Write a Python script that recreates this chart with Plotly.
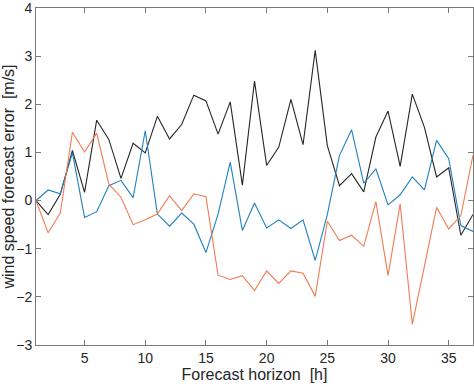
import plotly.graph_objects as go

horizon = list(range(1, 38))
err_black = [0, -0.29, 0.13, 1.04, 0.17, 1.67, 1.27, 0.46, 1.19, 0.99, 1.75, 1.28, 1.58, 2.19, 2.07,
             1.38, 2.05, 0.32, 2.48, 0.73, 1.11, 2.10, 1.16, 3.12, 1.14, 0.31, 0.56, 0.18, 1.32, 1.86,
             0.71, 2.21, 1.52, 0.49, 0.68, -0.72, -0.29]
err_blue = [0, 0.22, 0.14, 0.99, -0.35, -0.23, 0.31, 0.42, 0.06, 1.45, -0.28, -0.53, -0.26, -0.49,
            -1.08, -0.28, 0.80, -0.62, -0.05, -0.57, -0.40, -0.58, -0.40, -1.24, -0.29, 0.94, 1.47,
            0.36, 0.66, -0.09, 0.12, 0.49, 0.22, 1.25, 0.87, -0.52, -0.64]
err_orange = [0, -0.67, -0.26, 1.42, 1.01, 1.40, 0.34, 0.07, -0.50, -0.40, -0.28, 0.10, -0.21, 0.14,
              0.08, -1.55, -1.64, -1.56, -1.87, -1.46, -1.72, -1.46, -1.51, -1.99, -0.43, -0.83,
              -0.72, -0.95, -0.02, -1.56, -0.07, -2.57, -1.36, -0.14, -0.59, -0.31, 0.94]

x_ticks = [5, 10, 15, 20, 25, 30, 35]
y_ticks = [-3, -2, -1, 0, 1, 2, 3, 4]

fig = go.Figure()
fig.add_trace(go.Scatter(x=horizon, y=err_black, mode="lines", line=dict(color="#262626", width=1.1)))
fig.add_trace(go.Scatter(x=horizon, y=err_blue, mode="lines", line=dict(color="#1f80c0", width=1.1)))
fig.add_trace(go.Scatter(x=horizon, y=err_orange, mode="lines", line=dict(color="#f07a52", width=1.1)))

axis_common = dict(
    showgrid=False, zeroline=False, showline=True, linecolor="#7a7a7a", linewidth=1,
    mirror="ticks", ticks="inside", ticklen=5, tickcolor="#7a7a7a", automargin=False,
    ticklabeloverflow="allow",
    tickfont=dict(family="Liberation Sans, Arial", size=14, color="#262626"),
)

fig.update_layout(
    width=474, height=387,
    margin=dict(l=36, r=1, t=8, b=42),
    paper_bgcolor="white", plot_bgcolor="white",
    showlegend=False,
    xaxis=dict(range=[1, 37], tickvals=x_ticks, **axis_common,
               title=dict(text="Forecast horizon\u00a0\u00a0[h]", standoff=1,
                          font=dict(family="Liberation Sans, Arial", size=16, color="#262626"))),
    yaxis=dict(range=[-3, 4], tickvals=y_ticks, **axis_common,
               title=dict(text="wind speed forecast error\u00a0\u00a0[m/s]", standoff=5,
                          font=dict(family="Liberation Sans, Arial", size=16, color="#262626"))),
)

fig.write_html("out.html", config={"displayModeBar": False, "staticPlot": True},
               post_script="document.body.style.margin='0';document.body.style.overflow='hidden';")
